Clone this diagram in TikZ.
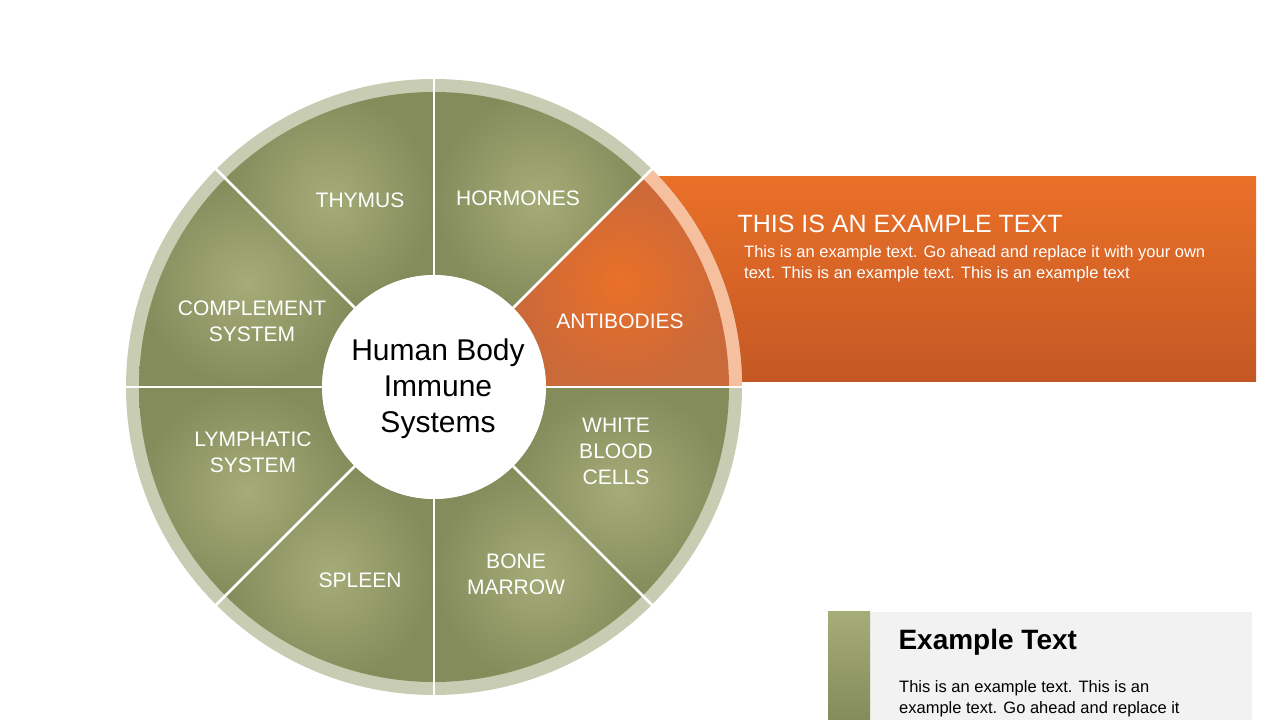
\documentclass[tikz,border=0pt]{standalone}
\usepackage{fontspec}
\setmainfont{Liberation Sans}
\usetikzlibrary{positioning,calc}
\definecolor{olivewedge}{RGB}{132,140,92}
\definecolor{olivelight}{RGB}{166,172,120}
\definecolor{olivering}{RGB}{200,204,178}
\definecolor{bannerorange}{RGB}{234,112,40}
\definecolor{bannerdark}{RGB}{196,88,36}
\definecolor{boxgray}{RGB}{242,242,242}
\tikzset{
  wedge/.style = {inner color=olivelight, outer color=olivewedge, draw=none},
  wedgelabel/.style = {text=white, align=center, font=\fontsize{21}{26}\selectfont},
  sepline/.style = {white, line width=2.5pt},
}
\begin{document}
\begin{tikzpicture}[x=1pt, y=1pt]
    \useasboundingbox (0,0) rectangle (1280,720);
    \coordinate (c) at (434,333);
    % banner
    \shade[top color=bannerorange, bottom color=bannerdark] (650,338) rectangle (1256,543);
    \node[anchor=west, text=white, font=\fontsize{25}{28}\selectfont] (title) at (734,496) {THIS IS AN EXAMPLE TEXT};
    \node[anchor=north west, text=white, align=left, font=\fontsize{16.5}{21}\selectfont, inner sep=0pt] (body) at (744,475)
        {This is an example text. Go ahead and replace it with your own\\text. This is an example text. This is an example text};
    % ring
    \fill[olivering] (c) circle (308);
    \foreach \a in {0,45,...,315}{
        \shade[wedge] ($(c)+(\a:112)$) arc (\a:\a+45:112) -- ($(c)+(\a+45:295)$) arc (\a+45:\a:295) -- cycle;
    }
    % orange sector
    \fill[bannerorange!45] ($(c)+(0:294)$) arc (0:45:294) -- ($(c)+(45:308)$) arc (45:0:308) -- cycle;
    \shade[inner color=bannerorange, outer color=bannerdark!90] ($(c)+(0:112)$) arc (0:45:112) -- ($(c)+(45:295)$) arc (45:0:295) -- cycle;
    \foreach \a in {0,45,...,315}{
        \draw[sepline] ($(c)+(\a:112)$) -- ($(c)+(\a:310)$);
    }
    \fill[white] (c) circle (112);
    \node[align=center, font=\fontsize{30}{36}\selectfont] (hub) at (438,331) {Human Body\\Immune\\Systems};
    \node[wedgelabel] (thymus) at (360,520) {THYMUS};
    \node[wedgelabel] (hormones) at (518,522) {HORMONES};
    \node[wedgelabel] (antibodies) at (620,399) {ANTIBODIES};
    \node[wedgelabel] (wbc) at (616,269) {WHITE\\BLOOD\\CELLS};
    \node[wedgelabel] (marrow) at (516,146) {BONE\\MARROW};
    \node[wedgelabel] (spleen) at (360,140) {SPLEEN};
    \node[wedgelabel] (lymph) at (253,268) {LYMPHATIC\\SYSTEM};
    \node[wedgelabel] (complement) at (252,399) {COMPLEMENT\\SYSTEM};
    % bottom box
    \fill[boxgray] (828,0) rectangle (1252,108);
    \shade[top color=olivelight, bottom color=olivewedge] (828,0) rectangle (870,108);
    \node[anchor=west, font=\bfseries\fontsize{28}{30}\selectfont] (extitle) at (895,78) {Example Text};
    \node[anchor=north west, align=left, font=\fontsize{16.5}{21}\selectfont, inner sep=0pt] (exbody) at (899,40)
        {This is an example text. This is an\\example text. Go ahead and replace it};
\end{tikzpicture}
\end{document}
